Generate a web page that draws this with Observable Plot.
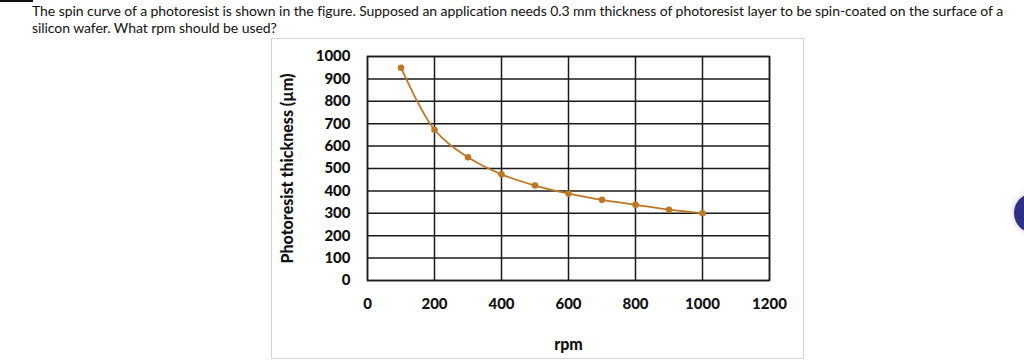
<!DOCTYPE html>
<html>
<head>
<meta charset="utf-8">
<script src="https://cdn.jsdelivr.net/npm/d3@7"></script>
<script src="https://cdn.jsdelivr.net/npm/@observablehq/plot@0.6"></script>
<style>
  html, body { margin: 0; padding: 0; background: #fff; width: 1024px; height: 360px; overflow: hidden; position: relative; }
  #title { position: absolute; left: 32px; top: 3px; width: 990px; font-family: Lato, "Open Sans", sans-serif; font-size: 14px; letter-spacing: -0.06px; line-height: 16.5px; color: #111; }
  #topbar { position: absolute; left: 0; top: 0; width: 33px; height: 2px; background: #111; }
  #box { position: absolute; left: 271px; top: 38px; width: 531px; height: 319px; border: 1px solid #d4d4d4; }
  #chart { position: absolute; left: 271px; top: 38px; }
  #blob { position: absolute; left: 1014px; top: 193px; width: 40px; height: 40px; border-radius: 50%; background: #2b2f86; box-shadow: 0 0 6px rgba(0,0,0,0.25); }
  #chart svg g[aria-label="x-axis label"] text, #chart svg g[aria-label="y-axis label"] text { font-size: 16px; font-weight: 900; }
  #chart svg g[aria-label="x-axis tick label"] text, #chart svg g[aria-label="y-axis tick label"] text { font-weight: 900; }
</style>
</head>
<body>
<div id="topbar"></div>
<div id="title">The spin curve of a photoresist is shown in the figure. Supposed an application needs 0.3 mm thickness of photoresist layer to be spin-coated on the surface of a silicon wafer. What rpm should be used?</div>
<div id="box"></div>
<div id="chart"></div>
<div id="blob"></div>
<script>
const rpm = [100, 200, 300, 400, 500, 600, 700, 800, 900, 1000];
const thickness = [950, 673, 550, 474, 424, 388, 360, 338, 316, 300];
const xTicks = [0, 200, 400, 600, 800, 1000, 1200];
const yTicks = [0, 100, 200, 300, 400, 500, 600, 700, 800, 900, 1000];

const data = rpm.map((r, i) => ({rpm: r, thickness: thickness[i]}));
const color = "#bf7726";

const chart = Plot.plot({
  width: 532,
  height: 320,
  marginLeft: 96,
  marginRight: 34,
  marginTop: 18,
  marginBottom: 78,
  style: {fontFamily: "Lato, 'Open Sans', sans-serif", fontSize: "15px", fontWeight: "bold", color: "#111", background: "transparent"},
  x: {domain: [0, 1200], ticks: xTicks, tickFormat: d3.format("d"), tickSize: 0, tickPadding: 18, label: "rpm", labelAnchor: "center", labelArrow: "none", labelOffset: 69},
  y: {domain: [0, 1000], ticks: yTicks, tickFormat: d3.format("d"), tickSize: 0, tickPadding: 17, label: "Photoresist thickness (µm)", labelAnchor: "center", labelArrow: "none", labelOffset: 86},
  marks: [
    Plot.gridX(xTicks, {stroke: "#1a1a1a", strokeOpacity: 1, strokeWidth: 1.5}),
    Plot.gridY(yTicks, {stroke: "#1a1a1a", strokeOpacity: 1, strokeWidth: 1.5}),
    Plot.frame({stroke: "#1a1a1a", strokeWidth: 1.5}),
    Plot.line(data, {x: "rpm", y: "thickness", stroke: color, strokeWidth: 1.8, curve: "catmull-rom"}),
    Plot.dot(data, {x: "rpm", y: "thickness", r: 3.3, fill: color, stroke: "none"})
  ]
});
document.getElementById("chart").appendChild(chart);
</script>
</body>
</html>
